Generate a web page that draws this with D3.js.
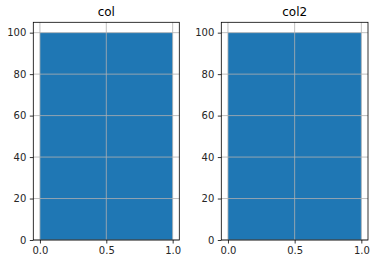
<!DOCTYPE html>
<html>
<head>
<meta charset="utf-8">
<script src="https://cdn.jsdelivr.net/npm/d3@7"></script>
<style>
  body { margin: 0; background: #fff; }
  svg { display: block; font-family: "DejaVu Sans", sans-serif; }
</style>
</head>
<body>
<div id="chart"></div>
<script>
// histogram data per column: bin edges and counts
const titles = ["col", "col2"];
const binEdges = [[0, 1], [0, 1]];
const binCounts = [[100], [100]];
const xTicks = [0.0, 0.5, 1.0];
const yTicks = [0, 20, 40, 60, 80, 100];

const width = 378, height = 264;
const panels = [
    {left: 33.3, right: 179.3},
    {left: 221.3, right: 368}
];
const axTop = 22.3, axBottom = 240;

const svg = d3.select("#chart").append("svg")
    .attr("width", width)
    .attr("height", height);

svg.append("rect").attr("width", width).attr("height", height).attr("fill", "#fff");

for(let p = 0; p < panels.length; p++)
{
    const pan = panels[p];
    const x = d3.scaleLinear().domain([-0.05, 1.05]).range([pan.left, pan.right]);
    const y = d3.scaleLinear().domain([0, 105]).range([axBottom, axTop]);

    const g = svg.append("g");

    const bars = binCounts[p].map((c, i) => ({x0: binEdges[p][i], x1: binEdges[p][i + 1], count: c}));

    g.selectAll("rect.bar")
        .data(bars)
        .join("rect")
        .attr("class", "bar")
        .attr("x", d => x(d.x0))
        .attr("width", d => x(d.x1) - x(d.x0))
        .attr("y", d => y(d.count))
        .attr("height", d => y(0) - y(d.count))
        .attr("fill", "#1f77b4");

    // grid
    g.selectAll("line.gx")
        .data(xTicks)
        .join("line")
        .attr("class", "gx")
        .attr("x1", d => x(d)).attr("x2", d => x(d))
        .attr("y1", axTop).attr("y2", axBottom)
        .attr("stroke", "#b0b0b0").attr("stroke-width", 0.8);
    g.selectAll("line.gy")
        .data(yTicks)
        .join("line")
        .attr("class", "gy")
        .attr("y1", d => y(d)).attr("y2", d => y(d))
        .attr("x1", pan.left).attr("x2", pan.right)
        .attr("stroke", "#b0b0b0").attr("stroke-width", 0.8);

    // axes
    const xAxis = d3.axisBottom(x).tickValues(xTicks).tickFormat(d3.format(".1f")).tickSize(3.5).tickPadding(3.5);
    const yAxis = d3.axisLeft(y).tickValues(yTicks).tickSize(3.5).tickPadding(3.5);

    const gx = g.append("g").attr("transform", `translate(0,${axBottom})`).call(xAxis);
    const gy = g.append("g").attr("transform", `translate(${pan.left},0)`).call(yAxis);
    for(const a of [gx, gy])
    {
        a.select(".domain").remove();
        a.selectAll(".tick line").attr("stroke", "#000").attr("stroke-width", 0.8);
        a.selectAll(".tick text").attr("fill", "#262626").style("font-size", "10px").style("font-family", "DejaVu Sans");
    }

    // spines
    g.append("rect")
        .attr("x", pan.left).attr("y", axTop)
        .attr("width", pan.right - pan.left).attr("height", axBottom - axTop)
        .attr("fill", "none").attr("stroke", "#000").attr("stroke-width", 0.8);

    g.append("text")
        .attr("x", (pan.left + pan.right) / 2)
        .attr("y", axTop - 6)
        .attr("text-anchor", "middle")
        .style("font-size", "12px")
        .attr("fill", "#000")
        .text(titles[p]);
}
</script>
</body>
</html>
